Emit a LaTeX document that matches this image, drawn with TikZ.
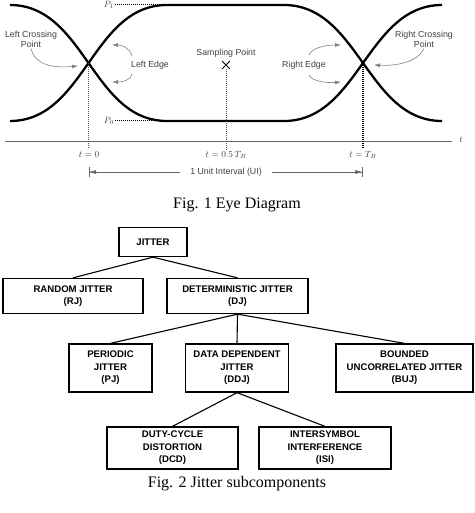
\documentclass[tikz,border=0pt]{standalone}
\usepackage{fontspec}
\setmainfont{Liberation Sans}
\newfontfamily\capfont{Liberation Serif}
\usetikzlibrary{arrows.meta, positioning, shapes.misc, calc}

\tikzset{
  eye/.style={line width=2.3pt},
  lbl/.style={font=\fontsize{8.8}{10}\selectfont, text=black!75, align=center, inner sep=1pt},
  pointer/.style={-{Latex[length=6pt,width=4pt]}, black!50, line width=0.6pt},
  guide/.style={dash pattern=on 1pt off 1pt, black!65, line width=0.8pt},
  level/.style={dash pattern=on 1pt off 1pt, line width=1pt},
  span/.style={black!60, line width=0.6pt, shorten <=9pt, -{Latex[length=7pt,width=4pt]Bar[width=10pt]}},
  jbox/.style={draw, line width=1.3pt, align=center, inner sep=2pt,
    font=\fontsize{9.6}{12.5}\selectfont\bfseries},
  link/.style={line width=1.1pt},
  caption/.style={font=\capfont\fontsize{16}{18}\selectfont}
}

\begin{document}
\begin{tikzpicture}[x=1pt, y=-1pt]
    \useasboundingbox (0,0) rectangle (474,513);

    % eye diagram
    \coordinate (lc) at (88.5,63);
    \coordinate (rc) at (363,63);
    \coordinate (t0) at (88.5,149);
    \coordinate (th) at (226,149);
    \coordinate (t1) at (363,149);
    \draw[eye] (10,5) .. controls (85,5) and (92,121) .. (167,121) -- (284,121)
        .. controls (359,121) and (367,5) .. (442,5);
    \draw[eye] (10,121) .. controls (85,121) and (92,5) .. (167,5) -- (284,5)
        .. controls (359,5) and (367,121) .. (442,121);
    \draw[black!60, line width=0.8pt] (5,141) -- (452,141);
    \node[lbl] (t) at (461,140) {$t$};

    \node[lbl] (p1) at (109,5) {$P_1$};
    \node[lbl] (p0) at (109,121) {$P_0$};
    \draw[level] (p1.east) -- (162,5);
    \draw[level] (p0.east) -- (166,121);

    \node[draw, cross out, minimum size=7pt, inner sep=0pt, line width=0.8pt] (sp) at (226,65) {};
    \node[lbl] (splbl) at (226,53) {Sampling Point};
    \draw[guide] (lc) -- (t0);
    \draw[guide] (sp) -- (th);
    \draw[guide, black, line width=1.3pt] (rc) -- (t1);

    \node[lbl] (tz) at (89,155) {$t=0$};
    \node[lbl] (tm) at (226,155) {$t=0.5\,T_B$};
    \node[lbl] (tb) at (363,155) {$t=T_B$};

    \node[lbl] (ui) at (226,172) {1 Unit Interval (UI)};
    \draw[span] (ui.west) -- (88.5,172);
    \draw[span] (ui.east) -- (363,172);

    \node[lbl] (lcp) at (31,39) {Left Crossing\\Point};
    \node[lbl] (rcp) at (424,39) {Right Crossing\\Point};
    \node[lbl] (le) at (150,65) {Left Edge};
    \node[lbl] (re) at (304,65) {Right Edge};

    \draw[pointer] (lcp.south) .. controls (35,66) and (55,68) .. (78,66);
    \draw[pointer] (rcp.south) .. controls (417,63) and (395,66) .. (374,65);
    \draw[pointer] (132,56) .. controls (130,48) and (122,45) .. (112,45);
    \draw[pointer] (132,74) .. controls (130,81) and (122,82) .. (112,82);
    \draw[pointer] (309,55) .. controls (312,47) and (328,45) .. (341,45);
    \draw[pointer] (309,75) .. controls (312,82) and (328,83) .. (341,82);

    \node[caption] (cap1) at (237,205) {Fig. 1 Eye Diagram};

    % jitter tree
    \node[jbox, minimum width=68pt, minimum height=29pt] (jit) at (153,242) {JITTER};
    \node[jbox, minimum width=140pt, minimum height=35pt] (rj) at (73,296) {RANDOM JITTER\\(RJ)};
    \node[jbox, minimum width=141pt, minimum height=35pt] (dj) at (237.5,296) {DETERMINISTIC JITTER\\(DJ)};
    \node[jbox, minimum width=83pt, minimum height=48pt] (pj) at (110.5,368) {PERIODIC\\JITTER\\(PJ)};
    \node[jbox, minimum width=103pt, minimum height=48pt] (ddj) at (237,368) {DATA DEPENDENT\\JITTER\\(DDJ)};
    \node[jbox, minimum width=137pt, minimum height=48pt] (buj) at (404.5,368) {BOUNDED\\UNCORRELATED JITTER\\(BUJ)};
    \node[jbox, minimum width=131pt, minimum height=42pt] (dcd) at (172.5,448) {DUTY-CYCLE\\DISTORTION\\(DCD)};
    \node[jbox, minimum width=132pt, minimum height=42pt] (isi) at (325,448) {INTERSYMBOL\\INTERFERENCE\\(ISI)};

    \path[link] (jit.south) edge (rj.north)
                (jit.south) edge (dj.north)
                (dj.south) edge (pj.north)
                (dj.south) edge (ddj.north)
                (dj.south) edge (buj.north)
                (ddj.south) edge (dcd.north)
                (ddj.south) edge (isi.north);

    \node[caption] (cap2) at (237,484) {Fig. 2 Jitter subcomponents};
\end{tikzpicture}
\end{document}
